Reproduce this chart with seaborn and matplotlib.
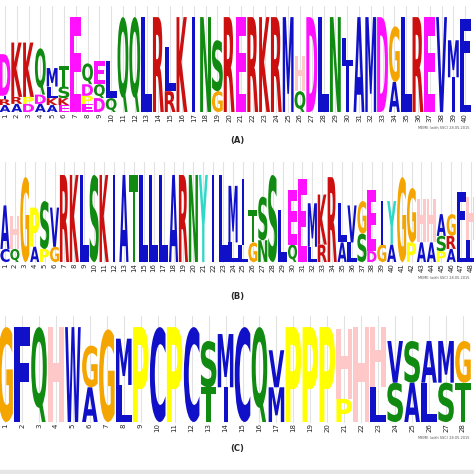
import matplotlib
matplotlib.use("Agg")
import matplotlib.pyplot as plt
import seaborn as sns
from matplotlib.textpath import TextPath
from matplotlib.patches import PathPatch
from matplotlib.font_manager import FontProperties
from matplotlib.transforms import Affine2D

sns.set_style("white")
plt.rcParams['font.family'] = ['DejaVu Sans']

# columns: list of (letter, bits), bottom to top
logo_a = [
    [("A",.3),("R",.25),("I",.15),("D",1.8)],
    [("A",.35),("R",.3),("K",2.35)],
    [("D",.35),("P",.3),("K",2.35)],
    [("A",.35),("D",.4),("Q",2.0)],
    [("A",.3),("K",.3),("L",.5),("M",.8)],
    [("E",.3),("K",.3),("S",.5),("T",.9)],
    [("E",4.1)],
    [("E",.35),("P",.35),("D",.5),("Q",.9)],
    [("D",.6),("Q",.6),("E",1.0)],
    [("Q",.6),("L",1.6)],
    [("Q",4.1)],[("Q",4.1)],[("L",4.1)],[("R",4.1)],
    [("R",.9),("L",1.9)],
    [("K",4.1)],[("I",4.1)],[("N",4.1)],
    [("G",.9),("S",2.2)],
    [("R",4.1)],[("E",4.1)],[("R",4.1)],[("K",4.1)],[("R",4.1)],[("M",4.1)],
    [("Q",.9),("H",1.5)],
    [("D",4.1)],[("L",4.1)],[("N",4.1)],
    [("I",2.0),("L",1.2)],
    [("A",4.1)],[("M",4.1)],[("D",4.1)],
    [("A",1.3),("G",2.4)],
    [("L",4.1)],[("R",4.1)],[("E",4.1)],[("V",4.1)],
    [("I",1.5),("M",1.6)],
    [("L",1.5),("F",2.5)],
]
logo_b = [
    [("C",.6),("A",2.0)],
    [("Q",.6),("H",1.5)],
    [("G",3.9)],
    [("A",.7),("P",1.8)],
    [("P",.6),("S",2.2)],
    [("G",.7),("V",1.8)],
    [("R",4.0)],[("K",4.0)],[("L",4.0)],[("S",4.0)],[("K",4.0)],
    [("I",4.0)],[("A",4.0)],[("T",4.0)],[("L",4.0)],[("L",4.0)],[("L",4.0)],
    [("A",4.0)],[("R",4.0)],[("N",4.0)],[("Y",4.0)],[("I",4.0)],[("L",4.0)],
    [("L",.9),("M",2.6)],
    [("L",.8),("I",3.0)],
    [("G",.9),("T",1.5)],
    [("N",1.0),("S",2.0)],
    [("S",4.0)],
    [("L",2.4)],
    [("Q",.8),("E",2.5)],
    [("E",3.8)],
    [("L",.7),("M",2.0)],
    [("R",.8),("K",2.3)],
    [("R",3.9)],
    [("A",.9),("L",1.8)],
    [("L",.9),("V",1.7)],
    [("S",1.3),("G",1.5)],
    [("D",.5),("E",2.8)],
    [("G",.8),("I",2.0)],
    [("A",.8),("Y",2.0)],
    [("G",3.9)],
    [("P",.9),("G",2.5)],
    [("A",.9),("H",2.0)],
    [("A",.9),("H",2.0)],
    [("P",.5),("S",.7),("A",1.0)],
    [("A",.6),("R",.6),("G",1.0)],
    [("L",1.0),("F",2.2)],
    [("L",1.0),("H",2.0)],
]
logo_c = [
    [("G",4.1)],[("F",4.1)],[("Q",4.1)],[("H",4.1)],[("W",4.1)],
    [("A",1.5),("G",1.8)],
    [("G",4.0)],
    [("L",1.6),("M",2.0)],
    [("P",4.1)],[("C",4.1)],[("P",4.1)],[("C",4.1)],
    [("T",1.5),("S",2.0)],
    [("I",1.5),("M",2.3)],
    [("C",4.1)],[("Q",4.1)],
    [("M",1.5),("V",1.6)],
    [("P",4.1)],[("P",4.1)],[("P",4.1)],
    [("P",1.0),("H",3.0)],
    [("H",4.1)],
    [("L",1.5),("H",2.6)],
    [("S",1.7),("V",1.8)],
    [("A",1.7),("S",1.8)],
    [("L",1.7),("A",1.8)],
    [("S",1.7),("M",1.8)],
    [("T",1.7),("G",1.8)],
]
captions = ["(A)", "(B)", "(C)"]

colors = {}
for c in "AILMFWVC": colors[c] = "#1010c8"
for c in "RK": colors[c] = "#cc1010"
for c in "DE": colors[c] = "#ff10ff"
for c in "NQST": colors[c] = "#108a10"
colors["G"] = "#f5a500"
colors["P"] = "#ffff00"
colors["H"] = "#ffc8c8"
colors["Y"] = "#30d8c8"

prop = FontProperties(family="DejaVu Sans", weight="bold")

def draw_letter(ax, ch, x, y, w, h):
    tp = TextPath((0, 0), ch, size=1, prop=prop)
    bb = tp.get_extents()
    bw = max(bb.width, 0.08)
    sx = w / bw if ch != "I" else 0.25 * w / bw
    t = Affine2D().translate(-bb.x0 - bb.width / 2, -bb.y0).scale(sx, h / bb.height).translate(x, y)
    ax.add_patch(PathPatch(t.transform_path(tp), fc=colors.get(ch, "k"), ec="none"))

W = H = 474
fig = plt.figure(figsize=(4.74, 4.74), dpi=100)
# (data, bottom px, height px, xlim, caption y px)
panels = [
    (logo_a, 112, 100, (0.58, 40.75), 141),
    (logo_b, 262, 94, (0.5, 48.3), 296),
    (logo_c, 422, 100, (0.7, 28.65), 449),
]
for (data, bot, hgt, xl, capy), cap in zip(panels, captions):
    ax = fig.add_axes([0, 1 - bot / H, 1, hgt / H])
    ax.set_xlim(*xl)
    ax.set_ylim(0, 4.32)
    n = len(data)
    for i in range(n):
        ax.plot([i + 1, i + 1], [0, 4.6], color="#e2e2e2", lw=0.8, clip_on=False, zorder=0)
    for i, col in enumerate(data):
        y = 0
        for ch, b in col:
            draw_letter(ax, ch, i + 1, y, 0.92, b)
            y += b
    ax.set_xticks(range(1, n + 1))
    ax.set_xticklabels([str(i) for i in range(1, n + 1)], rotation=90, fontsize=5)
    ax.tick_params(axis="x", length=0, pad=1)
    ax.set_yticks([])
    for s in ax.spines.values():
        s.set_visible(False)
    ax.patch.set_alpha(0)
    fig.text(0.99, 1 - (bot + 17) / H, "MEME (with SSC) 28.05.2015", fontsize=2.5, ha="right", color="#555555")
    fig.text(0.5, 1 - capy / H, cap, fontsize=6, fontweight="bold", ha="center", va="center")

fig.add_artist(plt.Rectangle((0, 0), 1, 4 / H, transform=fig.transFigure, color="#e6e6e6"))
fig.savefig("out.png", dpi=100)
